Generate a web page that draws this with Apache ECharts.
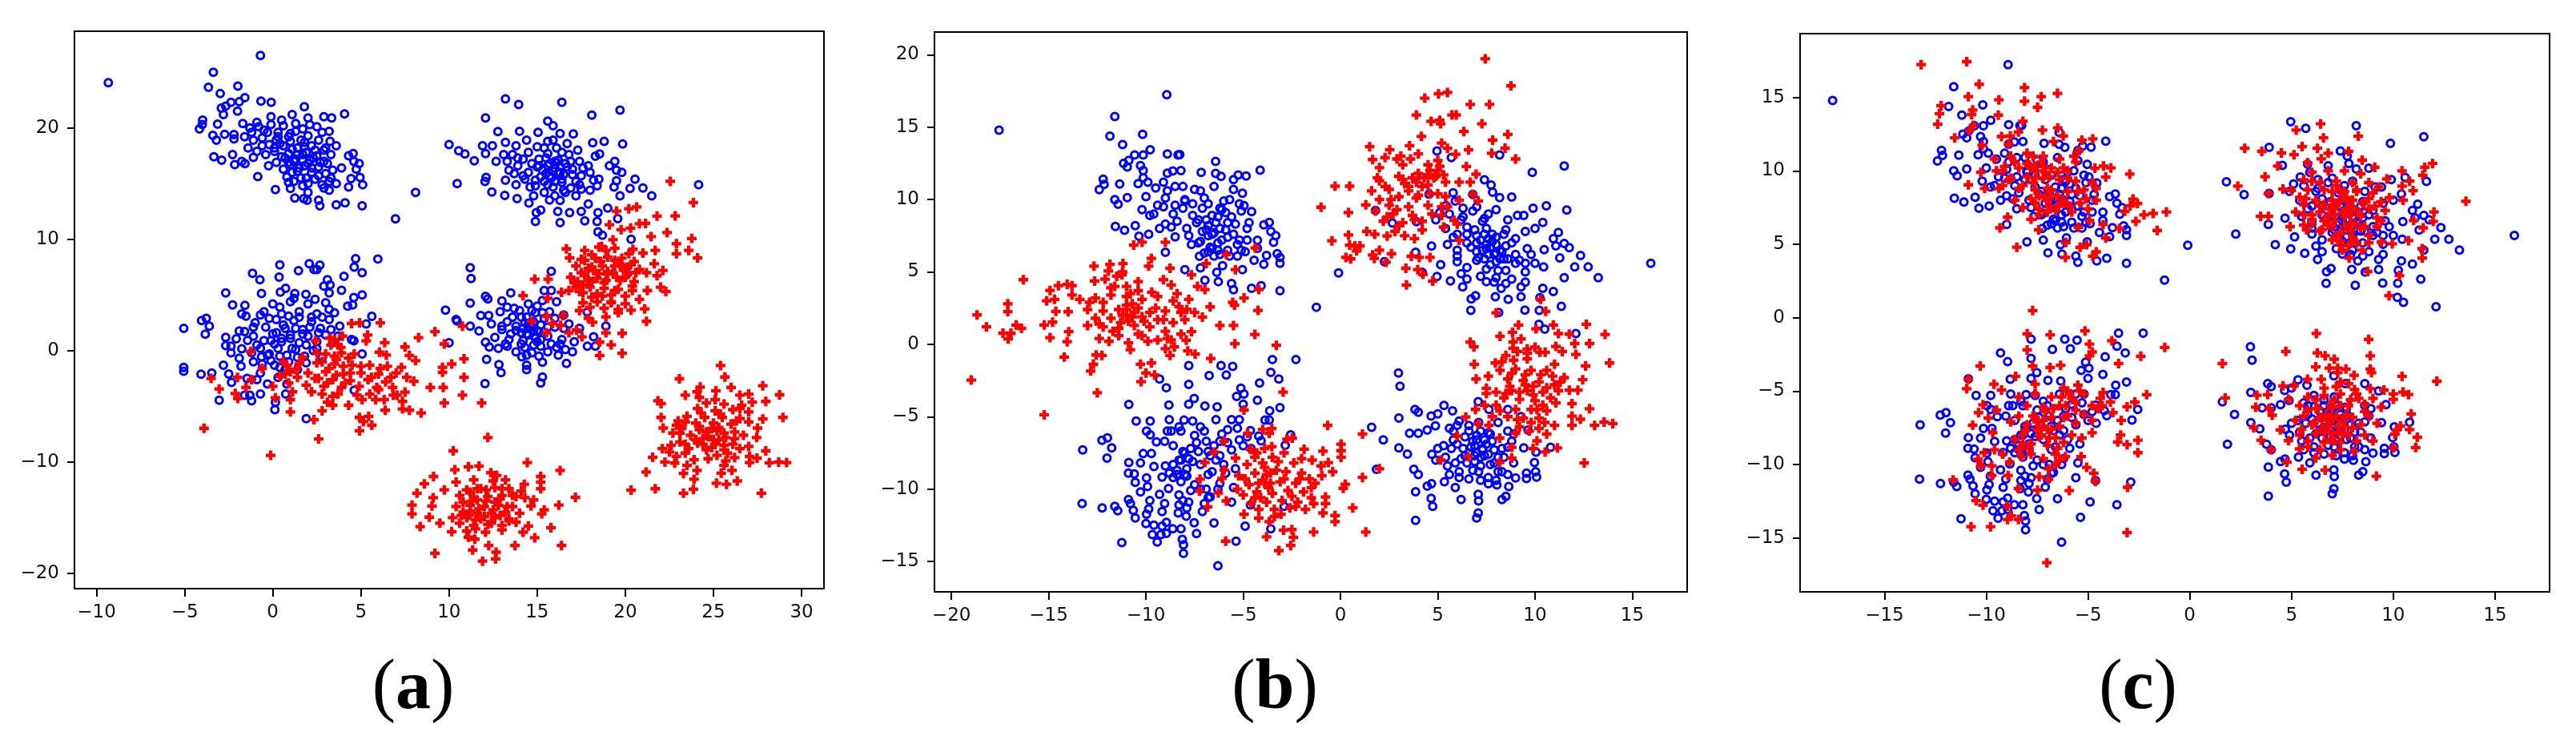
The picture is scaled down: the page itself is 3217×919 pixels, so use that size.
<!DOCTYPE html>
<html><head><meta charset="utf-8"><style>html,body{margin:0;padding:0;background:#fff}#c{width:3217px;height:919px}</style>
<script src="https://cdn.jsdelivr.net/npm/echarts@6/dist/echarts.min.js"></script></head><body><div id="c"></div><script>
const xTicksA=[-10,-5,0,5,10,15,20,25,30], yTicksA=[-20,-10,0,10,20];
const xTicksB=[-20,-15,-10,-5,0,5,10,15], yTicksB=[-15,-10,-5,0,5,10,15,20];
const xTicksC=[-15,-10,-5,0,5,10,15], yTicksC=[-15,-10,-5,0,5,10,15];
const captions=['a','b','c'];
const blueA=[[-9.33,24.06],[-.7,26.5],[-3.37,25],[-3.65,23.65],[-1.98,23.75],[-2.98,23.08],[-1.58,22.72],[-.67,22.4],[-.09,22.3],[1.79,21.9],[4.07,21.26],[-2.92,21.77],[-2.37,22.3],[-1.9,22.36],[-2.67,21.96],[-2.8,21.2],[-2,21.5],[-3.98,20.7],[-4,20.3],[-4.16,19.9],[-3.13,20.33],[-3.4,19.33],[-3.2,18.9],[-2.73,19.43],[-2.2,19.4],[-2.2,19],[-3.34,17.4],[-2.9,17.1],[-2.28,17.6],[-2.16,16.7],[-1.76,17],[-1.58,16.8],[-1.1,17.35],[-.24,16.6],[-.85,15.63],[.15,14.46],[1,14.56],[1.25,13.7],[1.76,13.65],[1.95,13.5],[2.6,13.5],[2.67,13],[3.6,13.1],[4.1,13.27],[5.07,13],[5.1,14.9],[4.3,14.7],[3.2,14.4],[8.1,14.2],[6.96,11.84],[4.56,17.7],[4.3,17.5],[4.6,17],[4.9,16.8],[4.74,16.3],[3.9,16.4],[4.95,15.56],[4.44,15.44],[3.6,18.4],[3.25,18.8],[3.2,19.7],[3.34,20.9],[2.9,21],[2,20.9],[1.1,21.2],
[-1.7,20.4],[-1.3,20],[-.9,20.5],[-.5,19.8],[-.1,21],[.3,19.6],[.6,20.2],[1,19.5],[1.3,20.4],[1.7,19.9],[2.1,20.3],[2.5,20.1],[-1.6,19.2],[-1.1,18.9],[-.6,19.1],[-.2,18.5],[.2,18.9],[.6,18.4],[1,18.8],[1.4,18.2],[1.8,18.7],[2.2,18.4],[2.6,18.9],[3,18.2],[-1.4,18.2],[-.9,17.9],[-.4,17.6],[.1,17.9],[.5,17.4],[.9,17.7],[1.3,17.2],[1.7,17.6],[2.1,17.1],[2.5,17.5],[2.9,17],[3.3,17.6],[.2,16.9],[.6,16.3],[1,16.7],[1.4,16.1],[1.8,16.6],[2.2,16],[2.6,16.5],[3,15.9],[3.4,16.2],[.8,15.6],[1.2,15.2],[1.6,15.5],[2,15],[2.4,15.4],[2.8,14.9],[3.2,15.2],[3.6,15],[2,14.2],[1.7,14.8],[.9,15.1],
[13.2,22.6],[13.95,22.1],[16.4,22.3],[19.7,21.6],[18.1,21.15],[12.07,20.9],[15.6,20.6],[15.9,20.2],[14,19.7],[12.77,19.67],[15.05,19.6],[17.05,19.45],[16.3,19.5],[18.8,18.8],[18.15,18.66],[19.85,18.55],[10,18.5],[10.55,17.95],[10.9,17.66],[11.43,17.04],[11.9,18.4],[12.46,18.4],[12.07,17.7],[12.67,17],[13.3,17],[19.4,17],[18.3,17.47],[18.54,17.66],[19.8,16],[19.1,16.6],[19.5,16.2],[20.55,15.4],[19.5,15.25],[19.36,14.7],[20.27,14.56],[21,14.6],[21.5,13.9],[19.7,13.9],[24.16,14.9],[10.46,15],[12.1,15.56],[12.04,15.2],[12.43,14.25],[13.16,13.94],[13.86,13.65],[14.53,13.25],[15.2,12.63],[14.95,12.4],[14.9,11.6],[16.3,11.5],[17.7,11.65],[18.4,11.6],[19.57,11.86],[18.45,10.67],[18.7,10.36],[20.33,10],[16.84,12.4],[16.17,12.5],[17.5,12.5],[18.45,12.4],[19,12.8],[17.9,13.17],[16.3,13.48],[15.7,13.53],
[13.2,18.7],[13.8,18.4],[14.4,18.9],[15,18.3],[15.6,18.8],[16.1,18.2],[16.7,18.6],[17.3,18],[13.1,17.6],[13.9,17.3],[14.5,17.8],[15.1,17.2],[15.6,17.7],[16.2,17.1],[16.8,17.6],[17.4,17],[17.9,16.6],[13.4,16.2],[13.9,16.6],[14.5,16],[15,16.5],[15.5,15.9],[16,16.4],[16.5,15.8],[17,16.3],[17.5,15.7],[18,16],[18.5,15.4],[13.2,15.3],[13.8,14.9],[14.3,15.4],[14.9,14.8],[15.4,15.2],[15.9,14.7],[16.4,15.1],[16.9,14.6],[17.4,14.9],[18,14.4],[18.4,14.8],[14.8,13.9],[15.4,14.2],[16,13.9],[16.6,14.2],[17.2,13.9],[15.6,16.6],[16,17],[15.8,15.5],[16.3,16],
[11.2,7.45],[11.25,6.47],[15.8,7.13],[13.5,5.18],[12.07,4.87],[12.2,4.65],[13,4.46],[11.2,4.27],[9.8,3.63],[10.4,2.8],[10.45,2.67],[11.2,2.2],[11.7,1.77],[11.8,3.15],[12.25,3.15],[10,.7],[12.07,.76],[12.28,.33],[12.13,-.79],[12.83,-1.26],[14.4,-1.3],[15.3,-1.03],[16.66,-1.15],[14.13,-.55],[16.2,-.4],[17.85,.4],[18.3,.4],[18.2,1.24],[18.9,2.2],[17.84,3.46],[15.4,5.4],[15.8,5.4],[12.04,-2.96],[12.95,-1.98],[14.4,-1.7],[15.3,-2.36],[15.2,-2.9],
[12.4,2.4],[12.9,3.5],[13.3,2.6],[13.7,3.8],[14.1,3],[14.5,4.2],[14.9,3.4],[15.3,4.5],[15.7,3.5],[16.1,4.4],[16.5,3.2],[12.6,1.2],[13,1.9],[13.4,1],[13.8,1.8],[14.2,.9],[14.5,2],[14.9,1.2],[15.2,2.3],[15.6,1.3],[16,2.1],[16.4,1],[16.8,2.4],[17.1,.8],[17.4,2],[12.8,.2],[13.3,.4],[13.8,-.1],[14.3,.3],[14.7,-.2],[15.2,.4],[15.6,-.1],[16.1,.3],[16.6,.1],[17,-.1],[14.4,1.5],[14.6,2.5],[14.8,.5],[15,1.8],
[5.96,8.23],[4.7,8.26],[4.62,7.5],[5.07,7],[2.67,7.68],[2.07,7.8],[2.34,7.28],[2.5,7.28],[.4,7.7],[1.46,7.18],[-1.15,6.95],[-.73,6.37],[.36,6.6],[4.04,6.68],[3.1,6.37],[2.9,5.8],[3.25,5.9],[.73,5.6],[3.9,5.42],[-2.67,5.18],[-.64,5.13],[.43,5.25],[1.25,5.13],[1.88,5.06],[3.2,5.18],[5.07,5],[4.6,4.77],[-2.28,4.1],[-1.58,4.06],[4.25,4],[4.53,4.1],[-1.76,3.3],[-1.52,3.1],[5.62,3.08],[-4.04,2.7],[-3.77,2.9],[-3.6,2.2],[-5.05,2],[-3.83,1.48],[5.3,2.4],[-2.67,1.2],[-1.9,1.77],[-1.6,1.72],[-2.07,1.07],[-1.43,.93],[-2.67,.45],[-2.37,.4],[-1.76,.17],[-2.37,-.2],[4.47,1],[4.6,.88],[5.07,-.3],[-.64,-.55],[-1.9,-.67],[-1.1,-1],[-5.05,-1.5],[-5.05,-1.84],[-4.07,-2.12],[-3.46,-2],[-3.04,-4.46],[-1.2,-4.5],[.12,-5.3],[.15,-4.63],[1.9,-6.1],[-2.5,-2.1],[-2.34,-2.85],[-1.46,-2.5],[-.7,-2],[-1.6,-4],[-1.3,-4],[-.7,-3.9],[.73,-3.9],[4.62,-3.56],
[-.5,3.5],[0,4.2],[.5,3.3],[1,4.4],[1.5,3.5],[2,4.2],[2.5,3.3],[3,4.3],[3.5,3.4],[-1,2.5],[-.4,2.1],[.2,2.8],[.7,2],[1.2,2.7],[1.7,1.9],[2.2,2.6],[2.7,2],[3.2,2.8],[3.8,2.2],[-1.1,1.3],[-.5,.9],[0,1.5],[.5,.8],[1,1.4],[1.5,.7],[2,1.3],[2.5,.8],[3,1.4],[3.4,.7],[-1.2,-.2],[-.7,.2],[-.2,-.3],[.3,.2],[.8,-.4],[1.3,.1],[1.8,-.5],[2.3,0],[2.8,-.6],[-.6,-1.2],[-.1,-.9],[.4,-1.5],[.9,-1],[1.4,-1.7],[1.9,-1.1],[-.9,-2.6],[-.3,-3],[.3,-2.4],[.8,-3],[-1.8,-1.4],[-2.8,-1.3]];
const blueAcores=[[.4,18.6],[.9,19.2],[1.1,18.1],[1.6,18.9],[.7,17.3],[1.2,17],[1.9,17.8],[2.3,17.3],[1.5,16.4],[2,16.8],[2.7,16.9],[2.9,18],[.3,19.2],[-.3,19.6],[-.8,20.1],[-1.2,19.6],[2.6,15.7],[1.9,15.5],[1.1,16],[3.1,16.8],[2.4,18],[1.3,19.7],[.1,18.2],[1.7,17.1],[2.2,16.4],[1.4,17.6],[1.8,18.3],[.9,16.9],[3.3,15.5],[2.9,14.6],[-.6,18.4],[-.1,20.3],[2.8,19.6],[2,19.3],[.5,20.7],
[15.3,16.2],[15.7,15.7],[16.1,16.9],[16.4,15.4],[16.7,16.5],[15.5,17.3],[15.9,16.1],[16.2,15.9],[15.2,15.6],[16.9,17],[17.2,15.2],[14.7,16.8],[14.2,17.2],[14.9,15.3],[15.6,14.9],[16.5,14.4],[17.6,16.4],[13.7,15.9],[15.4,18.2],[16.4,17.8],[15.9,18.9],[14.6,14.7],[17.5,14.5],[18.2,15.3],[13.6,17.6],[16,15.2],[15.7,16.8],[16.6,16.8],[15.1,16.6],[16.3,16.5],[17,15.8],[14.2,15.7],
[.2,1.6],[.6,2.3],[1,1.1],[1.3,2],[.1,.6],[.5,1.1],[1.7,1.5],[2.1,2.1],[2.6,1.6],[.9,3.1],[1.5,3],[2.2,3],[2.8,3],[3.2,3.7],[-.2,2.9],[-.7,3.2],[-1.1,2.1],[.4,-.5],[1.1,.2],[1.9,.5],[2.5,.2],[-.3,-.4],[-.9,.5],[3.3,1.9],[3.7,1.3],[.7,-1.7],[.1,-1.3],[.4,3.9],[1.2,4.7],[2.4,4.6],[-.1,.9],[1.4,-.6],
[14.2,2],[14.5,1.4],[14.8,2.6],[15.1,1.7],[14.4,3],[14.7,3.6],[15,.8],[14.1,.6],[15.4,2.9],[13.8,2.2],[13.5,1.5],[14.3,2.5],[14.6,2.1],[14.9,1.1],[15.2,1],[13.6,3],[14,3.6],[15.6,2.1],[16,2.9],[15.8,.6],[14.4,-.4],[15.1,-.5],[13.2,.6],[13,2.2],[16.5,2],[16.3,.6],[15,4],[13.3,3.9],[14.8,1.8],[14.5,2.4],[14.1,1.6],[15.3,3.4]];
const blueBC=[[-17.55,14.79],[-8.93,17.24],[-11.6,15.73],[-11.85,14.38],[-10.17,14.5],[-11.2,13.8],[-9.78,13.44],[-8.9,13.15],[-8.35,13.08],[-8.26,13.1],[-10.14,13.08],[-10.58,13.08],[-10.88,12.7],[-11.15,12.5],[-10.96,12.25],[-6.42,12.63],[-4.13,12.03],[-4.85,11.62],[-5.26,11.7],[-5.5,11.38],[-6.14,11.6],[-6.42,11.8],[-7.16,11.88],[-8.2,12],[-8.62,11.97],[-8.9,11.82],[-10.28,12.34],[-10.14,12],[-10.14,11.5],[-12.2,11.4],[-12.15,11.05],[-11.35,11.07],[-10.4,11.1],[-12.4,10.68],[-11.6,10],[-10.96,10.13],[-11.43,9.67],[-5.04,10.44],[-5.7,10],[-4.96,9.58],[-4.57,9.17],[-3.66,8.42],[-3.94,8.25],[-3.58,7.8],[-3.33,7.5],[-3.44,7.05],[-4.27,7.18],[-4.27,6.63],[-3.25,6.26],[-3.11,6],[-3.8,6.13],[-3.94,5.52],[-4.44,5.8],[-3.11,5.6],[-11.57,8.14],[-11.1,7.88],[-10.55,8.2],[-10.36,7.46],[-9.86,7.6],[-9.3,8],[-8.5,7.42],[-9,6.35],[-8,5.16],[-7.2,5.28],[-6.97,4.42],[-6.28,4.33],[-5.6,4.2],[-5.5,3.77],[-4.57,3.87],[-4.08,4.05],[-3.11,3.7],[-1.24,2.56],[-6.36,4.97],[-6.06,5.43],[-5.04,5.16],[-7.25,6.08],[-7.66,6.9],
[-10,10.2],[-9.5,10.8],[-9,10.1],[-8.5,10.9],[-8,10],[-7.5,10.7],[-7,10.1],[-6.5,10.9],[-6,9.9],[-5.5,10.7],[-10.2,9.3],[-9.6,9],[-9.1,9.5],[-8.6,9],[-8.1,9.4],[-7.6,8.9],[-7.1,9.4],[-6.6,8.9],[-6.1,9.3],[-5.6,8.8],[-5.1,9.2],[-9,8.3],[-8.4,8.5],[-7.9,8],[-7.4,8.4],[-6.9,7.9],[-6.4,8.4],[-5.9,7.9],[-5.4,8.3],[-4.8,8],[-7.8,7.5],[-7.3,7],[-6.8,7.5],[-6.3,7],[-5.8,7.4],[-5.3,6.9],[-4.8,7.2],[-7,6.3],[-6.6,6.6],[-6.2,6.2],[-5.8,6.5],[-5.3,6.1],[-4.9,6.4],[-6.8,8.2],[-6.5,7.7],[-6.2,8],
[4.96,13.35],[5.7,12.9],[8.18,13.08],[9.86,11.88],[11.5,12.32],[7.4,11.36],[7.74,11],[3.9,11.6],[4.55,10.37],[5.79,10.46],[6.8,10.35],[7.82,10.5],[8.8,10.18],[8.18,10.13],[10.58,9.56],[9.9,9.4],[11.63,9.28],[9.42,8.9],[1.8,9.25],[2.67,8.38],[3.9,8.47],[6.3,9.4],[5.43,9.58],[10.4,8.42],[10,8],[11.2,7.73],[10.94,7.3],[11.76,6.67],[11.5,6.96],[11.07,6.8],[12.34,6.13],[10.47,6.54],[11.27,5.97],[10.44,5.34],[12.04,5.34],[12.73,5.34],[11.5,4.6],[13.25,4.6],[15.95,5.6],[4.68,6.78],[3.86,6.35],[2.26,5.7],[-.1,4.93],[4.2,4.97],[4.96,4.68],[5.65,4.38],[6.28,3.96],[5.15,5.5],[6.2,4.88],[6.94,3.35],[6.72,3.13],[6.7,2.34],[8.13,2.2],[7.96,3.28],[8.62,3.1],[9.28,3.28],[9.48,2.36],[10.22,2.34],[11.35,2.62],[10.25,3.22],[10.94,3.65],[10.4,3.87],[9.28,3.96],[8.26,3.87],[7.5,4.33],[10.2,1.38],[10.5,1.05],[12.1,.74],
[5.6,9],[6.2,8.6],[6.8,9.2],[7.4,8.7],[8,9.3],[8.6,8.6],[9.1,8.9],[5.4,8],[6,7.6],[6.5,8.1],[7,7.5],[7.5,8],[8,7.4],[8.5,7.9],[9,7.3],[9.5,7.8],[5.5,6.9],[6,6.5],[6.5,7],[7,6.4],[7.5,6.9],[8,6.3],[8.5,6.8],[9,6.2],[9.6,6.6],[6,5.7],[6.5,5.3],[7,5.8],[7.5,5.2],[8,5.7],[8.5,5.1],[9,5.6],[9.5,5],[10,5.6],[7.2,4.7],[8,4.6],[8.8,4.5],[9.5,4.3],[7.6,6.2],[7.8,7.1],[8.2,6.5],[7.4,7.6],[8.4,5.9],[7,7],
[-2.29,-1.05],[-3.5,-1.05],[-7.8,-1.47],[-6.14,-1.47],[-5.54,-1.53],[-9.3,-2.4],[-8.95,-3],[-7.8,-2.77],[-6.75,-2.16],[-5.87,-2.12],[-3.58,-1.94],[-3.17,-2.4],[-4.16,-2.67],[-5.12,-3.04],[-5.34,-3.6],[-4.96,-3.44],[-4.27,-3.86],[-5,-4.14],[-3.11,-4.38],[-3.64,-4.6],[-10.88,-4.16],[-8.82,-4.2],[-7.52,-3.74],[-7.8,-4.14],[-6.97,-4.27],[-6.34,-4.32],[-10.5,-5.3],[-9.78,-5.3],[-8.04,-5.24],[-3.88,-5.24],[-3.66,-5.24],[-9.97,-6],[-9.78,-6.25],[-8.9,-6],[-12.26,-6.63],[-11.98,-6.47],[-11.76,-7.16],[-13.25,-7.3],[-12,-7.86],[-10.14,-7.55],[-9.72,-7.55],[-10.88,-8.17],[-10.28,-8.2],[-9.59,-8.44],[-9.04,-6.7],[-9.46,-6.74],[-10.9,-8.9],[-10.6,-8.96],[-10.55,-9.54],[-9.97,-9.23],[-9.17,-9.18],[-9.92,-9.82],[-10.28,-10.2],[-8.84,-9.96],[-9.3,-10.37],[-10.9,-10.73],[-13.28,-11],[-9.8,-10.8],[-10.8,-11],[-12.25,-11.3],[-11.6,-11.2],[-11.45,-11.5],[-10.65,-11.47],[-10.55,-12],[-9.97,-11.74],[-9.86,-11.37],[-9.04,-11],[-9.17,-11.56],[-8.34,-11.65],[-7.93,-11.87],[-10,-12.38],[-9.59,-12.5],[-9.17,-12.56],[-8.62,-12.75],[-8.2,-12.75],[-8.95,-12.3],[-9.67,-13.15],[-9.23,-13.15],[-8.95,-13.06],[-7.4,-13.08],[-7.52,-12.33],[-6.5,-12.34],[-4.9,-12.56],[-3.58,-12.75],[-9.42,-13.66],[-11.24,-13.7],[-8.13,-13.48],[-8.07,-13.85],[-8.07,-14.45],[-6.3,-15.3],[-5.37,-13.6],[-7,-11],[-7.1,-11.55],[-6.7,-10.55],[-5.6,-10.9],[-4.63,-11.1],[-2.9,-11.2],[-2.56,-6.25],[-2.84,-6.98],[-4.08,-6.67],[-4.2,-6.34],[-4.63,-5.97],
[-8.8,-5.2],[-8.2,-6],[-7.6,-5.3],[-7,-6],[-6.4,-5.2],[-5.8,-5.9],[-5.2,-5.2],[-4.8,-6.4],[-8.6,-7],[-8,-7.5],[-7.4,-6.8],[-6.8,-7.4],[-6.2,-6.7],[-5.6,-7.3],[-5,-7],[-8.2,-8],[-7.9,-8.6],[-7.6,-8.1],[-8.4,-8.7],[-8.6,-9.2],[-8.2,-9.5],[-7.9,-9.1],[-7.2,-8.3],[-6.6,-8.8],[-6,-8.3],[-5.4,-8.6],[-7.5,-9.7],[-6.9,-10],[-6.2,-9.6],[-5.5,-9.9],[-8.3,-10.4],[-7.8,-10.9],[-8.1,-10.8],
[2.98,-1.98],[3.06,-2.9],[5.32,-4.23],[3.83,-4.5],[4,-4.7],[3,-5.1],[4.66,-4.96],[5,-4.8],[5.76,-4.6],[1.6,-5.73],[2.2,-6.6],[3,-7.16],[3.55,-6.15],[4,-6.15],[4.46,-5.93],[4.88,-5.64],[3.44,-7.58],[1.85,-8.63],[3.77,-8.63],[4,-9],[3.86,-10.18],[4.46,-9.8],[4.68,-9.63],[4.66,-10.64],[4.74,-11.2],[3.86,-12.16],[6.2,-10.73],[5.9,-9.9],[5.34,-9.5],[7.08,-10.37],[7.1,-10.82],[7.08,-11.65],[7,-12],[8.3,-10.73],[8.5,-10.5],[8.65,-9.82],[8.04,-9.72],[7.6,-9.63],[9,-9.23],[9.56,-8.9],[9.56,-9.27],[10.03,-8.8],[10.08,-9.18],[9.97,-8.17],[10.05,-7.44],[10.8,-7.12],[9.42,-7.16],[9.64,-5.93],[9.28,-5],[8.6,-4.5],[7.08,-3.96],[7.63,-4.5],
[5.6,-5.8],[6.1,-5.3],[6.6,-6],[7.1,-5.4],[7.6,-6.1],[8.1,-5.4],[8.6,-6],[5.3,-7],[5.8,-6.6],[6.3,-7.2],[6.8,-6.7],[7.3,-7.3],[7.8,-6.7],[8.3,-7.2],[8.8,-6.7],[4.9,-8],[5.4,-7.8],[5.9,-8.2],[6.4,-7.7],[6.9,-8.1],[7.4,-7.7],[7.9,-8.2],[8.4,-7.8],[8.9,-8.2],[5.6,-9],[6.1,-8.8],[6.6,-9.3],[7.1,-8.8],[7.6,-9.2],[8.1,-8.8],[8.6,-9],[6.9,-7],[7.2,-7.8],[6.6,-7.5],[7.5,-6.9],[7,-7.5]];
const blueBCcores=[[-6.8,9.7],[-6.2,9.4],[-7.3,8.6],[-6.6,7.6],[-6.1,7.2],[-5.5,7.6],[-6.7,6.7],[-6.3,6.5],[-5.7,6.1],[-7.1,7.8],[-5.8,8.4],[-5.2,7.2],[-8.5,9.6],[-8.9,10.6],[-9.4,9.6],[-8.1,10.9],[-9.8,8.9],[-7.6,9.7],[-7.2,10.6],[-5.2,9.7],[-6.5,6.1],[-5.1,6.5],[-4.7,8.4],[-8.7,8.1],[-7.2,7.1],[-6.9,8.6],[-9.1,11.2],[-9.9,11.2],[-6.3,8.8],[-5.9,9.1],[-6.8,6.4],[-8,9.9],
[7.2,7.2],[7.5,6.6],[7.8,7.6],[8,6.9],[8.3,6.4],[7.4,5.9],[7.7,5.5],[8.1,5.1],[8.6,5.9],[7.1,6],[6.7,6.7],[6.9,7.9],[7.3,8.5],[7.6,9],[6.5,7.6],[8.4,7.6],[8.8,7],[9.2,5.8],[9.5,5.6],[6,6.1],[6.3,8.8],[7,9.5],[5.8,7.4],[7.6,7.3],[7.9,6.2],[8.2,5.9],[7.3,6.5],[7.9,4.3],[8.5,4.2],[9.8,6.2],[6.5,4.5],[7.7,6.7],[5.1,9.1],[5.9,9.9],[4.9,8.6],
[-8.3,-8],[-8.1,-7.4],[-7.8,-7.9],[-8.6,-8.3],[-8.4,-9],[-8,-9],[-7.7,-7.2],[-7.3,-7.4],[-6.9,-6.7],[-6.5,-7],[-6.2,-7.7],[-6.7,-7.7],[-5.6,-5.2],[-5.3,-5.8],[-6.1,-6.2],[-5.8,-6.8],[-7.2,-5.7],[-7.5,-6.3],[-8.7,-6],[-8.3,-5.7],[-9,-8.4],[-8.8,-8.9],[-7.2,-10],[-7.9,-11.3],[-8.3,-11.1],[-6.8,-10.6],[-6.3,-10],[-7.7,-10.1],[-5.9,-8.9],[-6.4,-8],[-6.8,-9],[-5.2,-6.6],[-4.6,-7.2],
[6.4,-6.4],[6.7,-7.1],[7,-6.6],[7.3,-7.2],[7.6,-7.6],[6.2,-7.9],[6.5,-8.2],[6.9,-7.7],[7.2,-8.4],[7.7,-6.2],[7.9,-7.3],[8.1,-7.8],[6,-5.6],[6.6,-5.6],[7.2,-6],[5.7,-7.2],[5.5,-8.4],[6.1,-9.2],[7.2,-9.4],[8,-9.4],[5,-7.2],[4.7,-7.6],[8.3,-8.8],[8.6,-7.1],[8.9,-6.2],[7,-6.3],[7.4,-6.6],[7.7,-8.3],[6.8,-8.7],[6,-6.9],[5.8,-6]];
const redA=[[22.55,15.2],[23.86,13.3],[19.5,12.53],[20.2,12.74],[20.64,12.9],[21.8,12.08],[22.83,12.1],[19.1,11.3],[19.76,10.86],[20.3,11],[20.8,11.4],[21.15,11.43],[22.37,10.6],[21.46,10.24],[23.77,10.07],[19.3,9.95],[22.9,9.6],[16.66,9.14],[17.7,9],[18.66,9.36],[21.7,9],[23.6,9],[22.9,8.7],[24.1,8.33],[20.43,9.1],[21,8.76],[16.84,8.33],[21.64,7.8],[22.13,7.2],[21.8,6.73],[21.2,7],[14.86,6.42],[15.62,6.42],[22,5.7],[22.3,5.3],[21.25,5.4],[16.38,5.23],[14.2,4.94],[15.6,4.7],[21.1,3.75],[20.33,3.63],[21.2,2.63],[14.68,2.63],[15.53,3.08],[15.53,1.6],[15.87,2.43],[16.32,2.27],[19.82,1.55],[18.9,1.6],[19.2,.52],[18.54,-.43],[19.82,-.24],[18.54,.76],[17.54,1.24],[16.8,1.6],[17.23,1.84],[16.47,3.15],[18.15,2.55],[18.9,3.03],
[17.2,7.6],[17.5,8.2],[17.9,7.4],[18.3,8.3],[18.7,7.6],[19,8.4],[19.4,7.6],[19.8,8.3],[20.1,7.5],[20.5,8],[20.8,7.3],[16.9,6.6],[17.3,6.2],[17.7,6.8],[18.1,6.2],[18.5,6.9],[18.9,6.3],[19.3,7],[19.7,6.3],[20.1,6.8],[20.5,6.2],[16.8,5.4],[17.2,5.7],[17.6,5.2],[18,5.7],[18.4,5.1],[18.8,5.6],[19.2,5],[19.6,5.5],[20,4.9],[20.4,5.4],[20.8,4.6],[17.6,4.3],[18,3.9],[18.4,4.4],[18.8,3.8],[19.2,4.3],[19.6,3.7],[20,4.2],[19.9,7.2],[19.7,7.8],[20.2,7],[19.5,6.6],[18.1,7.5],[17.6,5.9],[19,6.9],
[12.2,-7.8],[10.24,-9],[14.44,-10.05],[16.3,-10.76],[17.17,-13.17],[16.23,-13.87],[15.78,-15.9],[16.38,-17.5],[13.74,-17.5],[11.9,-18.9],[12.64,-18.7],[12.67,-18.1],[12.25,-17.5],[11.34,-17.9],[9.2,-18.2],[8.36,-15.8],[7.9,-14.65],[7.9,-13.87],[8.18,-12.8],[8.6,-11.96],[9.12,-11.3],[10.33,-10.7],[11.1,-10.43],[11.7,-10.36],[12.37,-10.96],[12.7,-11.2],[15.2,-11.3],[15.2,-11.8],[15.2,-12.4],[14.27,-12],[10.4,-11.8],[9.73,-12.5],[9.1,-13.2],[9.03,-13.95],[8.88,-14.95],[9.48,-15.5],[10.15,-16.25],[11.1,-16.75],[11.46,-16.93],[12.07,-16.3],[14.2,-16.3],[14.86,-16.8],[15.4,-14.3],[15.26,-14.65],[14.65,-13.95],[14.8,-13.4],[14.5,-15.75],
[10.6,-13],[11,-12.5],[11.4,-13.2],[11.8,-12.4],[12.2,-13.1],[12.6,-12.3],[13,-13],[13.4,-12.4],[13.8,-13.1],[14.1,-12.6],[10.4,-14],[10.8,-14.5],[11.2,-13.9],[11.6,-14.6],[12,-14],[12.4,-14.6],[12.8,-13.9],[13.2,-14.5],[13.6,-14],[14,-14.6],[10.2,-15],[10.6,-15.5],[11,-15],[11.4,-15.7],[11.8,-15.1],[12.2,-15.6],[12.6,-15],[13,-15.7],[13.4,-15.1],[13.8,-15.4],[11,-16.2],[11.5,-16],[13,-16.1],[12.5,-11.7],[13.2,-11.6],[11.4,-11.6],[11.2,-14.4],[11.6,-13.4],[12.6,-13.6],
[23.07,-2.53],[25.65,-2.37],[27.8,-3.15],[25.14,-3.6],[26,-3.3],[28.75,-3.97],[23.4,-4],[24.07,-3.7],[24.25,-3.27],[21.85,-4.5],[22.03,-4.75],[27.97,-4.56],[28.94,-6],[22.03,-6],[27.8,-6.14],[27.2,-4.63],[26.5,-4],[27,-3.9],[22.15,-6.95],[27.5,-6.95],[27.45,-7.8],[27,-8.6],[27.97,-9],[21.55,-9.58],[21.18,-10.9],[20.33,-12.53],[21.7,-12.4],[23.3,-12.8],[23.86,-12.45],[27.72,-12.8],[25.17,-11.9],[25.74,-12],[26.35,-11.7],[24.07,-10.75],[23.3,-11.03],[23.9,-11.55],[22.25,-10],[22.8,-10.1],[28.17,-10.07],[28.7,-10],[29.15,-10.05],[27.05,-10.05],[27.47,-9.65],[27.05,-9.5],[22.1,-8.8],[25.44,-11],[26.05,-10.75],[25.4,-1.34],
[24.1,-5.2],[24.6,-4.7],[25.1,-5.4],[25.6,-4.8],[26.1,-5.3],[26.6,-4.9],[27,-5.5],[23,-6.3],[23.5,-5.9],[24,-6.5],[24.5,-6],[25,-6.5],[25.5,-6],[26,-6.6],[26.5,-6.1],[27,-6.4],[22.7,-7.4],[23.2,-7],[23.7,-7.6],[24.2,-7.1],[24.7,-7.7],[25.2,-7.2],[25.7,-7.8],[26.2,-7.3],[26.7,-7.6],[22.6,-8.5],[23.1,-8.2],[23.6,-8.8],[24.1,-8.3],[24.6,-8.9],[25.1,-8.4],[25.6,-8.9],[26.1,-8.4],[26.5,-8.8],[22.9,-9.5],[23.4,-9.2],[23.9,-9.8],[24.7,-9.7],[25.2,-9.4],[25.7,-9.9],[26.2,-9.6],[24.9,-7],[25.3,-8],[24.4,-7.9],[23.5,-10.3],[25.6,-10.3],
[-1.25,-.07],[4.47,2.43],[4.92,2.5],[6.1,2.5],[5.38,1.4],[5.3,.88],[6.35,.72],[8.27,1.17],[9.2,1.7],[10.76,2.2],[9.73,.6],[7.5,.33],[6.05,-.14],[6.44,-.4],[7.75,-.43],[8.1,-.9],[10.85,-.74],[10.15,-1.2],[9.63,-1.5],[2.43,.88],[3.25,1.12],[3.95,1.3],[3.86,.28],[2.5,-.2],[4.3,-.67],[4.62,-.3],[10.85,-2.4],[9.63,-1.94],[8.94,-3.3],[9.67,-3.3],[10.76,-4],[9.73,-4.7],[11.85,-4.7],[8.42,-5.6],[7.75,-5.35],[7.36,-5.23],[6.38,-5.35],[7.5,-3.72],[8,-2.75],[5.44,-5.9],[4.92,-6],[5.62,-6.7],[4.92,-7.2],[5.14,-6.37],[2.6,-7.93],[-.12,-9.4],[-3.9,-6.97],[-3.5,-2.5],[-3.04,-3.44],[-2.13,-3.85],[-1.98,-4.3],[-1.52,-3.3],[0,-3.2],[.15,-4.23],[1,-4.4],[1,-5.5],[2.34,-6.2],[2.8,-5.4],[3.4,-4.9],[4.3,-4.9],[5.07,-4.4],[5.84,-4.4],[6.32,-4.4],[6.84,-4],[7.05,-4],[7.36,-4.56],[4.77,-4],[1.12,-3.7],[3.1,-4.63],
[.6,-1],[1,-1.9],[1.5,-1.2],[2,-2],[2.5,-1.1],[3,-1.9],[3.5,-1.2],[4,-2.1],[4.5,-1.3],[5,-2],[5.5,-1.3],[6,-2.1],[6.5,-1.4],[7,-2],[.4,-2.3],[.9,-2.9],[1.4,-2.4],[1.9,-3.1],[2.4,-2.5],[2.9,-3.2],[3.4,-2.6],[3.9,-3.3],[4.4,-2.7],[4.9,-3.2],[5.4,-2.6],[5.9,-3.3],[6.4,-2.8],[3,-.3],[3.5,-.5],[2.8,-3.9],[3.7,-3.9],[5.5,-3.9],[3.3,.5],[7.3,-1.5],[7.6,-2.4],[-.6,-1.6],[-1.2,-2.6],[-2,-2.4]];
const redAcores=[[18.2,7.2],[18.6,8],[19,7.1],[19.4,8.1],[19.9,7.4],[20.3,7.7],[18.4,6.5],[18.8,6.1],[17.5,7],[17.1,6.1],[17.4,5.3],[17.9,6.3],[20,6.6],[20.4,5.8],[18.9,9],[19.4,9.2],[18.1,8.6],[17.7,8.1],[18.5,9.3],[20.2,8.7],[18.7,4.9],[19.2,4.4],[19.4,5.4],[18.1,4.8],[19.6,3.4],[17.9,2.9],[17.4,3.6],[20.6,7],
[11.3,-13.5],[11.7,-14.2],[12.1,-13.5],[12.5,-14.3],[12.9,-13.3],[13.3,-14],[11.1,-14.8],[11.5,-15.2],[12,-14.9],[12.9,-14.8],[13.4,-15.3],[11.2,-12.7],[10.8,-13.6],[13.6,-13],[14.3,-13.2],[10.7,-14.8],[12.1,-12.5],[13,-12.4],[12.4,-15.5],[11.6,-12.4],
[24.2,-6.8],[24.6,-7.3],[25,-8],[25.3,-6.9],[25.6,-7.4],[24,-8],[24.4,-8.4],[24.9,-8.7],[25.6,-8.5],[23.1,-7.4],[22.9,-6.7],[23.4,-8.4],[22.5,-9.1],[26.3,-6.3],[26.5,-5.2],[24.3,-5.6],[25.4,-5.7],[26.2,-7.9],[25.8,-9.2],[23.4,-6.4],[25.1,-4.4],[24.2,-4.2],
[2.8,-1],[3.2,-1.6],[3.6,-.8],[4,-1.4],[4.4,-2],[2.6,-2.5],[3.1,-2.9],[3.6,-2.2],[4.1,-2.9],[1.3,-1.7],[1.7,-.6],[.7,-2.1],[5,-1.4],[5.6,-2.4],[6.1,-1.6],[6.7,-2.4],[3.7,.5],[3.5,1],[3.9,-.2],[.8,-1.3],[2.2,-3.7],[3.4,-4.1],[6,-3.5],[6.8,-3.3]];
const redB=[[-16.3,4.46],[-18.68,2.03],[-18.2,1.2],[-17.1,2.8],[-17.1,2.26],[-17.35,.77],[-17.08,.37],[-16.94,.77],[-16.67,1.33],[-16.4,1.1],[-15.23,1.33],[-14.8,1.53],[-14.93,.46],[-14.05,.18],[-13.97,.87],[-14.2,-.88],[-14.93,3.72],[-14.5,4.05],[-14.05,4.14],[-13.8,4.05],[-15.1,3],[-14.7,3.1],[-14.63,2.27],[-14,2.25],[-13.8,3.4],[-12.67,5.4],[-12.64,4.37],[-12.1,4.5],[-11.93,5.06],[-11.85,5.52],[-11.18,5.58],[-11.23,4.8],[-10.4,4.33],[-9.86,5.4],[-9.72,5.93],[-10.63,6.85],[-10.2,7.05],[-9,7.05],[-8.76,5.25],[-7.66,4.8],[-6.9,5.58],[-9.1,4.46],[-8.7,4.1],[-5.87,6.2],[-4.38,6.65],[-5.4,5.16],[-4.2,3.78],[-7.35,4],[-6.97,3.78],[-4.96,3.2],[-5.54,2.9],[-5.45,2.7],[-4.24,2.34],[-6.7,2.58],[-7.1,1.88],[-6.2,1.3],[-5.5,1.3],[-4.4,.68],[-5.43,.04],[-3.3,-.07],[-7.66,.87],[-7.93,.28],[-8.54,-.18],[-8.76,-.77],[-7.85,-.46],[-7.47,-.68],[-6.67,-.98],[-10.8,-.37],[-12.56,-.74],[-12.26,-.77],[-12.7,-1.38],[-10.28,-1.38],[-9.72,-1.29],[-18.98,-2.47],[-12.84,-1.85],[-12.5,-3.35],[-15.23,-4.87],[-10.25,-2.58],[-10,-1.98],[-9.56,-2.12],
[-13.4,3.1],[-13,2.4],[-12.6,3.2],[-12.2,2.3],[-11.8,3.4],[-11.4,2.4],[-11,3.3],[-10.6,2.2],[-10.2,3.1],[-9.8,2.2],[-9.4,3.3],[-9,2.3],[-8.6,3],[-8.2,2.2],[-7.8,3.1],[-13,1.3],[-12.6,1.8],[-12.2,1.2],[-11.8,1.8],[-11.4,1.1],[-11,2],[-10.6,1.3],[-10.2,1.9],[-9.8,1.2],[-9.4,1.7],[-9,.9],[-8.6,1.5],[-8.2,.7],[-12.4,.4],[-11.9,.2],[-11.4,.6],[-10.9,.1],[-10.4,.7],[-9.9,.2],[-9.4,.3],[-8.9,.4],[-11.8,3.9],[-11,4],[-10.4,3.7],[-9.7,3.6],[-11,2.4],[-10.7,2.8],[-11.2,2],[-10.9,1.6],[-8.4,3.5],[-7.5,2.2],
[7.44,19.72],[8.76,17.85],[5.5,17.4],[5.04,17.3],[4.33,17],[6.67,16.57],[7.66,16.57],[5.73,15.84],[5.95,15.84],[3.9,15.84],[4.66,15.4],[5.1,15.47],[5.15,15.23],[7.27,15.23],[6.34,14.7],[8.6,14.5],[4.16,14.36],[7.82,14.1],[1.5,13.65],[2.53,13.44],[3.55,13.72],[5.2,13.9],[6.58,13.43],[8.46,13.55],[7.77,13.2],[9,12.8],[5.92,13.13],[5.5,13.54],[4,13.15],[2.29,12.9],[1.65,12.76],[2.9,12.8],[6.47,12.28],[6.97,11.75],[2,12.2],[-.28,10.92],[.47,10.92],[-1,9.47],[.41,9.1],[1.3,9.63],[1.35,7.8],[.41,7.55],[-.44,7.15],[1.76,7.6],[2.4,7.48],[.47,6.85],[.74,6.8],[1,6.8],[.83,6.45],[.28,6],[.52,5.9],[1.65,6.17],[2,6.5],[2.62,6.26],[1.74,5.93],[2.34,5.67],[3.36,5.25],[3.39,4.1],[3.97,5.16],[4.24,4.83],[4.74,4.36],[3.64,6.08],[4.05,6],[4.6,6],[6.1,7.18],[5.84,8.56],[6,8.3],[5.3,8.1],[4.2,7.9],[6.1,9.95],[6.8,10.35],[7.08,9.9],[6.67,11.2],[6.1,11.2],
[2,11.3],[2.5,10.7],[3,11.6],[3.5,10.9],[4,11.8],[4.5,11],[5,12],[5.4,11.2],[3.2,12.4],[3.6,12.8],[4.5,12.4],[5,12.7],[4.8,11.5],[1.6,10.6],[2,10],[2.5,9.6],[3,10.2],[3.5,9.5],[4,10.3],[4.5,9.6],[5,10.4],[5.5,9.5],[1.8,9.2],[2.2,8.5],[2.7,9],[3.2,8.4],[3.7,8.9],[4.2,8.5],[4.7,9],[5.2,8.9],[3.3,7.5],[2.8,7.8],[3.8,7.3],[4.5,11.7],[3.9,11.2],[4.2,10.9],[3.7,11.5],[3.3,11.1],
[-2.95,-3.3],[-4.96,-4.54],[-.66,-5.6],[1.13,-6.2],[.03,-6.9],[.03,-7.35],[.03,-7.8],[-.9,-7.38],[2,-8.6],[1.13,-9.2],[.25,-9.67],[.14,-9.95],[.63,-11.3],[-.28,-11.83],[-.28,-12.25],[1.3,-12.97],[-1.38,-12.97],[-2.92,-12.84],[-2.5,-12.8],[-2.42,-13.33],[-2.56,-13.9],[-3.17,-14.25],[-3.8,-13.3],[-5.9,-13.6],[-3.66,-12.25],[-4.96,-11.74],[-3.06,-11.74],[-6.83,-11.23],[-7.25,-10.15],[-7.22,-9.32],[-6.97,-8.17],[-6.5,-7.44],[-5.98,-6.7],[-5.4,-7.86],[-4.77,-6.15],[-4.63,-7.25],[-4,-5.88],[-3.53,-5.82],[-3.66,-6.15],[-3.53,-7.07],[-2.75,-6.56],[-2.48,-6.48],[-1.87,-7.25],[-1.46,-8],[-.63,-8.17],[-.4,-8.8],[-.96,-9.08],[-.77,-10.55],[-.77,-11],[-1.38,-11],[-.9,-11.65],[-5.87,-10.82],[-6.28,-10.27],[-6.09,-9.27],[-5.98,-8.68],[-5.23,-9.08],[-5.3,-10],
[-4.8,-8.3],[-4.4,-8.9],[-4,-8.2],[-3.6,-8.9],[-3.2,-8.1],[-2.8,-8.8],[-2.4,-8.2],[-2,-8.9],[-1.6,-9.3],[-4.7,-9.7],[-4.3,-10.2],[-3.9,-9.6],[-3.5,-10.3],[-3.1,-9.5],[-2.7,-10.1],[-2.3,-9.6],[-1.9,-10.2],[-1.5,-9.9],[-4.6,-11],[-4.2,-11.4],[-3.8,-10.9],[-3.4,-11.4],[-3,-10.8],[-2.6,-11.3],[-2.2,-10.9],[-1.8,-11.4],[-4.3,-7.5],[-3.9,-7.2],[-4,-9.4],[-3.8,-9],[-3.6,-9.6],[-4.1,-10.6],[-2,-7.9],[-1,-8.4],
[10.28,3.1],[10.55,2.27],[8,2.17],[9.15,1.33],[10.05,1.07],[10.94,1.33],[12.64,1.38],[13.6,.68],[8.84,.83],[8.2,.55],[9.28,.37],[8.87,.15],[6.67,.15],[6.86,-.18],[11.76,.7],[11.2,.74],[12.8,.05],[12.04,.05],[8.87,-.28],[9.6,-.33],[11.07,-.15],[12.1,-.7],[8.5,-.77],[13.83,-1.29],[12.6,-1.5],[6.88,-1.38],[7.96,-1.29],[10.25,-.55],[10.52,-.55],[11,-1.38],[6.97,-2.4],[7.5,-3.04],[7.5,-3.4],[12.45,-2.45],[11.76,-3.17],[12.2,-3.17],[11.9,-4.1],[12.8,-4.45],[11.07,-4.05],[11.9,-4.96],[12.33,-5.18],[13.55,-5.37],[14,-5.48],[13.06,-5.6],[11.9,-5.6],[11,-5.6],[12.53,-8.2],[11.15,-7.16],[10.52,-7.44],[9.9,-7.2],[10.1,-6.67],[8.8,-7.12],[8.8,-7.86],[8.18,-8.17],[6.56,-7.76],[5.15,-8],[6,-6.34],[6.44,-5.02],[7.08,-5.5],[7.63,-5.6],[8.18,-6.48],[9,-6.15],[6.94,-4.5],[11.5,-2.3],[10.9,-2.2],
[8.2,-1.8],[8.6,-2.4],[9,-1.7],[9.4,-2.5],[9.8,-1.8],[10.2,-2.6],[10.6,-1.8],[11,-2.8],[8,-3.3],[8.4,-3.7],[8.8,-3.2],[9.2,-3.8],[9.6,-3.2],[10,-3.9],[10.4,-3.3],[10.8,-3.7],[11.2,-3.2],[8.2,-4.6],[8.6,-5],[9,-4.5],[9.4,-5.1],[9.8,-4.5],[10.2,-5.1],[10.6,-4.6],[9.2,-5.7],[9.7,-6],[10.2,-5.8],[10.6,-6.2],[9.6,-1],[8.9,-1.1],[9.1,-.5],[9.5,-2.8],[9.9,-3.5],[10.4,-4.2],[8.7,-2.9],[7.6,-2.2]];
const redBcores=[[-11,2.7],[-10.7,1.9],[-10.4,2.5],[-10.1,1.6],[-10.8,3.5],[-11.3,1.5],[-9.5,2.5],[-9.1,1.7],[-8.3,2.6],[-8,1.7],[-7.9,2.4],[-12.2,2.9],[-12.4,1.4],[-12.9,2.9],[-11.6,4],[-11.5,4.7],[-11.2,5],[-11.7,.9],[-10.2,.6],[-9,-.3],[-8.7,.3],
[3.5,10.6],[3.9,10.1],[4.3,11.5],[4.6,10.4],[3.2,11.4],[2.6,10],[2.3,10.9],[2.9,9.3],[4.9,11.6],[5.3,11.7],[5.1,12.3],[4.6,12],[3.1,13],[2.4,8.8],[3,8.2],[3.8,8.6],[5.4,10.2],[5.2,9.5],[1.9,11.5],
[-3.9,-8.5],[-4.2,-9.6],[-3.7,-9.9],[-3.3,-8.7],[-3.5,-7.8],[-2.9,-9.3],[-2.5,-10.5],[-2.3,-11.2],[-4.4,-10.6],[-5,-10.4],[-4.9,-9.3],[-2.1,-9.3],[-1.5,-10.6],[-1.3,-9.6],[-2.9,-7.5],[-4.4,-7.8],[-3.4,-11.9],[-4.2,-12],
[9.2,-3.3],[9.5,-2.1],[9.9,-2.9],[10.3,-2.1],[8.8,-2],[8.5,-3.4],[10.1,-4.5],[10.6,-3],[8.3,-1.2],[8,-4.2],[9.1,-5.2],[9.8,-5.4],[10.5,-5.4],[11.3,-2.6],[7.8,-5],[7.4,-4.2],[9.6,-.6],[10,-.2],[11.4,-.5]];
const redC=[[-13.2,17.24],[-10.96,17.44],[-10.35,15.9],[-8.12,15.67],[-6.5,15.28],[-7.3,15.06],[-10.88,15.06],[-9.38,14.84],[-8.12,14.75],[-12.22,14.44],[-7.48,14.33],[-10.67,14.15],[-12.3,13.9],[-10.72,13.84],[-9.41,13.8],[-12.39,13.18],[-8.2,13.38],[-10.63,13.1],[-10.83,12.74],[-7.24,12.78],[-6.49,12.93],[-11.55,12.25],[-9.25,12.34],[-8.82,12.38],[-8.42,12.65],[-6.22,12.38],[-5.3,12.1],[-4.77,12.18],[-8.9,11.83],[-10.2,11.74],[-6.7,12],[-5.45,11.37],[-4.24,10.33],[-3.88,10.2],[-2.95,9.78],[-4.13,9.58],[-4.66,10.18],[-10.88,9.05],[-10.27,9.9],[-10.08,8.8],[-9.38,8.8],[-2.79,8.08],[-2.57,7.77],[-3.19,7.25],[-2.92,7.62],[-2.25,7],[-1.8,7.1],[-1.15,7.2],[-2.65,6.56],[-1.6,5.94],[-3.46,6.07],[-4.13,5.43],[-4.26,6.34],[-8.95,6.84],[-9.33,6.12],[-7.43,5.98],[-8.5,4.8],[-6.09,5.12],[-5.39,4.79],[-5.07,4.97],[-4.6,4.48],[-4.77,4.19],[-6.11,4.1],[-5.47,6.16],[-4.93,6.62],
[-9.6,10.8],[-9.2,10],[-8.8,11],[-8.4,10.2],[-8,11.2],[-7.6,10.3],[-7.2,11],[-6.8,10.2],[-6.4,10.8],[-6,10],[-5.6,10.6],[-9.2,9],[-8.8,9.5],[-8.4,8.8],[-8,9.6],[-7.6,8.7],[-7.2,9.5],[-6.8,8.7],[-6.4,9.4],[-6,8.6],[-5.6,9.3],[-5.2,8.7],[-4.8,9.2],[-8.6,8],[-8.2,7.5],[-7.8,8.1],[-7.4,7.4],[-7,8],[-6.6,7.3],[-6.2,8],[-5.8,7.2],[-5.4,7.8],[-5,7.4],[-4.6,8],[-7.8,6.7],[-7.4,7],[-7.7,9.2],[-7.5,10],[-7.3,10.6],[-7.9,10.4],[-7.1,9.9],[-6.9,8.2],[-6.5,8.3],[-7,7.2],
[-7.72,.48],[-7.99,-1.1],[-6.86,-1.17],[-5.15,-.9],[-4.93,-1.8],[-3.83,-1.57],[-1.23,-2.03],[-7.99,-2.2],[-4.8,-2.34],[-4.93,-2.6],[-2.41,-2.63],[-10.3,-3.3],[-7.72,-3.3],[-6.86,-3.4],[-6.35,-3.25],[-3.5,-3.13],[-8.56,-4],[-10.88,-4.2],[-9.62,-4.53],[-10.96,-4.84],[-9.25,-4.93],[-7.6,-4.53],[-2.12,-5.25],[-4.26,-5.1],[-2.7,-5.75],[-3.08,-6.07],[-3.9,-5.75],[-3.78,-6.47],[-3.37,-7],[-3.4,-8],[-3.54,-8.47],[-2.55,-8.35],[-3.08,-8.65],[-2.55,-9.2],[-10.67,-7.33],[-10.16,-5.93],[-10.38,-6.47],[-9.9,-6.84],[-9.5,-6.3],[-9.68,-7.84],[-10.1,-9.2],[-10.4,-9.65],[-10.27,-10.1],[-9.73,-10.75],[-8.93,-10.75],[-11.63,-11.05],[-4.72,-10.6],[-4.64,-11.15],[-5.92,-11.78],[-3.06,-11.56],[-7.48,-11.75],[-8.42,-11.65],[-10.5,-12.47],[-10.16,-12.78],[-8.95,-12.84],[-8.77,-13.5],[-8.95,-13.75],[-8.42,-13.75],[-10.75,-14.24],[-9.79,-14.24],[-3.08,-14.64],[-7.02,-16.7],[-5.07,-10.2],[-5.34,-9.47],[-6.94,-10.3],[-6.94,-11],[-7.4,-10.84],[-9.73,-10.1],[-8.85,-9.84],[-8.26,-9.47],[-6.11,-9.47],[-5.3,-8.2],[-4.8,-7.84],
[-8.4,-5.4],[-8,-6],[-7.6,-5.2],[-7.2,-6.1],[-6.8,-5.4],[-6.4,-6],[-6,-5],[-5.6,-5.8],[-5.2,-5.2],[-4.8,-6],[-4.4,-5.5],[-8.8,-7.1],[-8.4,-6.7],[-8,-7.3],[-7.6,-6.8],[-7.2,-7.4],[-6.8,-6.8],[-6.4,-7.4],[-6,-6.7],[-5.6,-7.2],[-5.2,-6.6],[-4.8,-7],[-8.6,-8.3],[-8.2,-8],[-7.8,-8.6],[-7.4,-8.1],[-7,-8.7],[-6.6,-8.2],[-6.2,-8.5],[-5.8,-8],[-8.4,-9],[-7.8,-9.3],[-7.2,-9.6],[-6.6,-9.3],[-7.2,-7],[-7,-7.6],[-6.7,-6.2],[-7.5,-7.6],[-5.9,-5.2],[-5.5,-4.6],[-6.2,-4.8],
[6.43,13.2],[5.23,12.78],[8.28,12.36],[6.57,12.25],[2.7,11.54],[3.54,11.33],[4.5,11.22],[5.52,11.65],[6.27,11.54],[5.12,11.1],[7.8,11.33],[6.8,11.2],[8.47,10.73],[11.93,10.5],[11.55,10.24],[4.32,10.33],[9.09,10.24],[10.43,10],[11.45,9.7],[3.7,9.6],[10.8,9.3],[2.36,8.96],[10.43,8.96],[10.97,8.65],[3.86,8.45],[4.58,8.76],[4.99,8.67],[13.57,7.93],[3.48,6.9],[3.86,6.9],[12,7.2],[4.93,6.2],[11.47,6.12],[11.96,6.56],[11,6.62],[10.75,5.25],[11.42,4.7],[11.42,4.06],[8.74,3.14],[10.3,2.87],[9.79,1.5],[7.83,4.06],[8.47,4.6],[9.41,5.15],[9.95,5.03],[5.74,5.98],[7.4,4.97],[10.48,8],[9.81,8.17],[6.46,10.82],[5.79,10.55],[9.68,9.45],[9.28,8.9],
[5.6,9.4],[6,9.9],[6.4,9.2],[6.8,10],[7.2,9.3],[7.6,10],[8,9.2],[8.4,9.8],[8.8,9.2],[5.4,8.2],[5.8,8.7],[6.2,8],[6.6,8.7],[7,8],[7.4,8.6],[7.8,7.9],[8.2,8.6],[8.6,7.9],[9,8.5],[9.4,7.9],[5.2,7.2],[5.6,7.7],[6,7],[6.4,7.6],[6.8,6.9],[7.2,7.6],[7.6,6.9],[8,7.5],[8.4,6.9],[8.8,7.4],[9.2,6.8],[9.6,7.3],[5.6,6.3],[6,6.7],[6.4,5.9],[6.8,6.3],[7.2,5.6],[7.6,6.2],[8,5.5],[8.4,6.1],[8.8,5.6],[9.2,6.2],[7.4,5.2],[7.8,4.9],[8.2,5.1],[8.8,5.1],[7.5,7.2],[7.7,8.2],[7.1,7],[8.1,6.4],[7.9,7],
[1.6,-3.13],[4.72,-2.3],[6.22,-1.08],[8.79,-1.48],[6.27,-2.4],[6.65,-2.6],[7.1,-2.83],[8.87,-2.6],[6.19,-3.35],[6.86,-3.44],[7.27,-3.44],[7.67,-3.5],[8.87,-3.5],[12.14,-4.33],[10.43,-4],[1.74,-5.47],[3.3,-5.29],[3.83,-5.25],[3.24,-6.1],[3.9,-6.2],[10,-5.2],[10.48,-5.07],[10.75,-5.24],[10,-5.56],[10.88,-6.56],[10.35,-7.38],[10.16,-7.65],[10.8,-7.62],[10.08,-7.93],[11.18,-8.15],[11.1,-8.85],[10,-8.87],[3.14,-7.5],[3.5,-8.35],[4,-9],[4.77,-9.84],[5.52,-10.33],[6.65,-10.38],[9.17,-10.8],[5.39,-8.93],[6.19,-9.56],[7,-9.38],[8.07,-9.1],[4.85,-8.38],[4.45,-7.65],[4.05,-6.65],[4.85,-5.56],[4.58,-4.65],[5.12,-4.65],[5.79,-4.2],[6.46,-4.2],[7.27,-3.75],[8.07,-3.93],[8.93,-3.75],[8.87,-4.84],[9.54,-4.93],
[5.4,-6],[5.8,-5.4],[6.2,-6.2],[6.6,-5.3],[7,-6.1],[7.4,-5.2],[7.8,-6],[8.2,-5.2],[8.6,-5.9],[9,-5.5],[9.4,-6.1],[5.2,-7],[5.6,-6.7],[6,-7.3],[6.4,-6.8],[6.8,-7.4],[7.2,-6.7],[7.6,-7.4],[8,-6.8],[8.4,-7.3],[8.8,-6.7],[9.2,-7.2],[5.4,-8],[5.8,-8.4],[6.2,-7.9],[6.6,-8.5],[7,-7.9],[7.4,-8.5],[7.8,-8],[8.2,-8.4],[8.6,-8],[9,-8.4],[6.4,-9],[7.4,-9],[7.2,-4.7],[7.8,-4.5],[6.6,-4.8],[6.9,-7.1],[7.3,-7.8],[6.5,-7.6],[7.7,-6.6]];
const redCcores=[[-7.8,10.2],[-7.6,9.5],[-7.2,10.3],[-6.9,9.6],[-7,8.8],[-6.5,9.9],[-6,9.5],[-8.2,9],[-8.6,10.6],[-9.1,10.3],[-9.5,10],[-8.9,9.4],[-6.2,7.8],[-7.4,8.3],[-6.9,7.6],[-5.5,8.6],[-5.1,8.1],[-4.6,8.8],[-7.7,11],[-8,10.5],[-5.7,11],[-6.2,10.2],[-7.6,7.8],[-6.5,7.6],[-7.1,8.2],[-5.9,7.6],
[7.4,8],[7.7,7.4],[8,8],[8.3,7.2],[6.6,7.7],[6.9,7.4],[7,8.6],[6.4,7.2],[6,6.4],[5.6,7],[6.5,6],[7,6.2],[7.4,5.7],[7.9,5.9],[8.5,7.8],[9.1,7.6],[8.8,8.1],[8.2,8.7],[9.4,6.6],[7,5.3],[8,5.2],[7.5,4.6],[7.2,9],[5.7,8.1],[6,9.3],[7.6,8.6],[7.9,6.4],[8.6,6.2],[6.6,6.6],[7.1,6.6],
[-7.5,-7.1],[-7.1,-6.4],[-7.3,-8],[-6.8,-7.6],[-6.1,-6],[-6.2,-6.8],[-5.8,-5.5],[-5.6,-6.3],[-8.1,-7.7],[-8.2,-8.6],[-7.9,-8.9],[-6.5,-8.9],[-4.5,-6.2],[-4.3,-6],[-9.6,-9],[-9.2,-9.3],[-7.7,-6.7],[-5.4,-5],[-6.3,-5.4],[-6.9,-8.2],[-6.4,-9.7],[-6.6,-10],
[6.3,-6.2],[6.7,-6.6],[6.1,-7.2],[6.6,-7.8],[7,-6.8],[7.4,-6],[7.9,-5.6],[7.5,-7],[8,-7.5],[6.9,-8.3],[7.1,-8.4],[7.5,-7.9],[5.8,-6.3],[6.2,-5.6],[8.3,-5.5],[8.1,-4.9],[7.4,-4.4],[7.1,-5.6],[6.5,-7],[7.3,-7.4],[8.6,-6.4],[5.5,-7.6],[5.8,-8.8],[6.9,-6]];
const panels=[
 {l:93,t:39,w:936,h:696,xr:[-11.25,31.27],yr:[-21.37,28.68],xt:xTicksA,yt:yTicksA,b:blueA.concat(blueAcores),r:redA.concat(redAcores),cx:516},
 {l:1167,t:40,w:940,h:699,xr:[-20.87,17.82],yr:[-17.1,21.57],xt:xTicksB,yt:yTicksB,b:blueBC.concat(blueBCcores),r:redB.concat(redBcores),cx:1592},
 {l:2248,t:42,w:936,h:697,xr:[-19.15,17.68],yr:[-18.68,19.35],xt:xTicksC,yt:yTicksC,b:blueBC.concat(blueBCcores),r:redC.concat(redCcores),cx:2670}];
const fmt=v=>String(v).replace('-','\u2212');
const plus='path://M3.2,0H6.8V3.2H10V6.8H6.8V10H3.2V6.8H0V3.2H3.2Z';
const ax=(r,t,m,len)=>({type:'value',min:r[0],max:r[1],splitLine:{show:false},
  axisLine:{show:true,onZero:false,lineStyle:{color:'#000',width:2}},
  axisTick:{show:true,length:len,customValues:t,lineStyle:{color:'#000',width:2}},
  axisLabel:{show:true,customValues:t,margin:m,formatter:fmt,color:'#111',fontFamily:'DejaVu Sans',fontSize:23,hideOverlap:false}});
const chart=echarts.init(document.getElementById('c'),null,{renderer:'canvas'});
chart.setOption({animation:false,backgroundColor:'#fff',
 grid:panels.map(p=>({left:p.l,top:p.t,width:p.w,height:p.h,show:true,borderColor:'#000',borderWidth:2,backgroundColor:'#fff'})),
 xAxis:panels.map((p,i)=>Object.assign(ax(p.xr,p.xt,19,10),{gridIndex:i})),
 yAxis:panels.map((p,i)=>Object.assign(ax(p.yr,p.yt,19,9),{gridIndex:i})),
 series:panels.flatMap((p,i)=>[
  {type:'scatter',name:'blue'+i,xAxisIndex:i,yAxisIndex:i,data:p.b,symbol:'circle',symbolSize:9,silent:true,progressive:0,itemStyle:{color:'rgba(0,0,0,0)',borderColor:'#0000ff',borderWidth:3,opacity:1}},
  {type:'scatter',name:'red'+i,xAxisIndex:i,yAxisIndex:i,data:p.r,symbol:plus,symbolSize:12,silent:true,progressive:0,itemStyle:{color:'#ff0000',opacity:1}}]),
 graphic:panels.map((p,i)=>({type:'text',x:p.cx,y:861,style:{text:'{r|(}{b|'+captions[i]+'}{r|)}',align:'center',verticalAlign:'middle',rich:{r:{fontFamily:'Liberation Serif',fontSize:88,fill:'#000',lineHeight:92},b:{fontFamily:'Liberation Serif',fontWeight:'bold',fontSize:88,fill:'#000',lineHeight:92}}}}))
});
</script></body></html>
